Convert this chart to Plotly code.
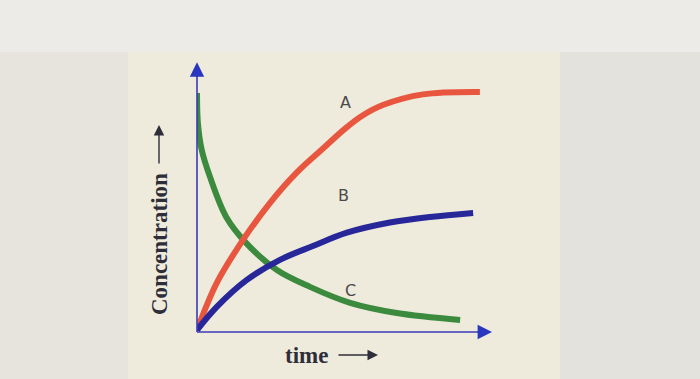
import plotly.graph_objects as go

# Data (arbitrary units: time 0..10, concentration 0..10)
a_time = [0.0, 0.67, 1.56, 2.47, 3.37, 4.30, 5.00, 5.60, 6.30, 7.66, 9.59]
a_conc = [0.07, 1.84, 3.45, 4.83, 5.96, 6.90, 7.60, 8.10, 8.50, 8.90, 8.99]

b_time = [0.0, 0.67, 1.69, 2.81, 3.93, 5.08, 6.54, 7.90, 9.36]
b_conc = [0.07, 0.94, 1.95, 2.70, 3.22, 3.72, 4.10, 4.31, 4.46]

c_time = [0.0, 0.03, 0.16, 0.44, 0.99, 1.67, 2.71, 3.83, 5.19, 6.77, 8.92]
c_conc = [8.95, 7.83, 6.82, 5.81, 4.31, 3.33, 2.32, 1.69, 1.09, 0.71, 0.45]

curve_labels = ["A", "B", "C"]
label_x = [5.02, 4.95, 5.19]
label_y = [8.61, 5.13, 1.57]

x_title = "time"
y_title = "Concentration"

# pixel helpers (paper coordinates)
L, R, T, B = 197, 492, 65, 332
def px(x):
    return (x - L) / (R - L)
def py(y):
    return (B - y) / (B - T)

fig = go.Figure()

shapes = [
    dict(type="rect", xref="paper", yref="paper", x0=px(0), x1=px(700), y0=py(0), y1=py(52),
         fillcolor="#ecebe8", line=dict(width=0), layer="below"),
    dict(type="rect", xref="paper", yref="paper", x0=px(128), x1=px(560), y0=py(52), y1=py(379),
         fillcolor="#eeebdc", line=dict(width=0), layer="below"),
    dict(type="rect", xref="paper", yref="paper", x0=px(560), x1=px(700), y0=py(52), y1=py(379),
         fillcolor="#e3e2dc", line=dict(width=0), layer="below"),
]
for s in shapes:
    fig.add_shape(**s)

fig.add_trace(go.Scatter(x=c_time, y=c_conc, mode="lines", line=dict(color="#3b8a3e", width=6, shape="spline"), hoverinfo="skip"))
fig.add_trace(go.Scatter(x=a_time, y=a_conc, mode="lines", line=dict(color="#e8563f", width=6, shape="spline"), hoverinfo="skip"))
fig.add_trace(go.Scatter(x=b_time, y=b_conc, mode="lines", line=dict(color="#27279a", width=6, shape="spline"), hoverinfo="skip"))

ann = []
for t, x, y in zip(curve_labels, label_x, label_y):
    ann.append(dict(x=x, y=y, xref="x", yref="y", text=t, showarrow=False,
                    font=dict(family="DejaVu Sans", size=16, color="#4a4a4a")))

# axes lines
fig.add_shape(type="line", xref="paper", yref="paper", x0=0, x1=0.98, y0=0, y1=0,
              line=dict(color="#3a3ab8", width=1.6))
fig.add_shape(type="line", xref="paper", yref="paper", x0=0, x1=0, y0=0, y1=0.98,
              line=dict(color="#3a3ab8", width=1.6))
# arrowheads on axes
ann.append(dict(x=1.0, y=0, ax=-16, ay=0, xref="paper", yref="paper",
                xanchor="center", yanchor="middle",
                text="", showarrow=True, arrowhead=2, arrowsize=1.6, arrowwidth=1.8, arrowcolor="#2a35c0"))
ann.append(dict(x=0, y=1.01, ax=0, ay=16, xref="paper", yref="paper",
                xanchor="center", yanchor="middle",
                text="", showarrow=True, arrowhead=2, arrowsize=1.6, arrowwidth=1.8, arrowcolor="#2a35c0"))

# axis titles (bold serif) with little arrows
ann.append(dict(x=px(306), y=py(355), xref="paper", yref="paper", text="<b>" + x_title + "</b>", showarrow=False,
                xanchor="center", yanchor="middle",
                font=dict(family="Liberation Serif", size=23, color="#2e2e3a")))
ann.append(dict(x=px(378), y=py(355), ax=-41, ay=0, xref="paper", yref="paper",
                xanchor="center", yanchor="middle",
                text="", showarrow=True, arrowhead=2, arrowsize=1.5, arrowwidth=1.4, arrowcolor="#2e2e3a"))
ann.append(dict(x=px(159), y=py(244), xref="paper", yref="paper", text="<b>" + y_title + "</b>", showarrow=False,
                xanchor="center", yanchor="middle",
                textangle=-90, font=dict(family="Liberation Serif", size=23, color="#2e2e3a")))
ann.append(dict(x=px(159), y=py(125), ax=0, ay=40, xref="paper", yref="paper",
                xanchor="center", yanchor="middle",
                text="", showarrow=True, arrowhead=2, arrowsize=1.5, arrowwidth=1.4, arrowcolor="#2e2e3a"))

fig.update_layout(
    width=700, height=379,
    margin=dict(l=L, r=700 - R, t=T, b=379 - B),
    paper_bgcolor="#e6e4dd", plot_bgcolor="rgba(0,0,0,0)",
    showlegend=False,
    xaxis=dict(range=[0, 10], showgrid=False, zeroline=False, showticklabels=False, ticks="", showline=False, fixedrange=True),
    yaxis=dict(range=[0, 10], showgrid=False, zeroline=False, showticklabels=False, ticks="", showline=False, fixedrange=True),
    annotations=ann,
)
fig.write_html("out.html")
